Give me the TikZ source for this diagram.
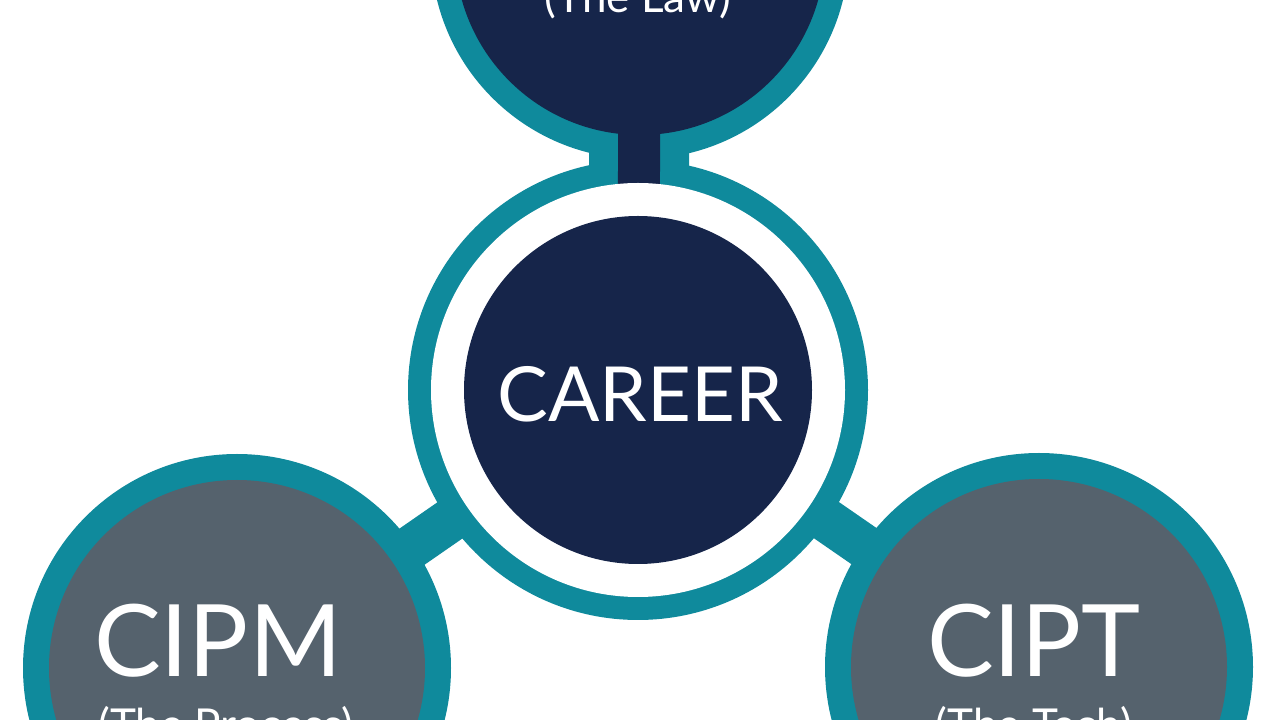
\documentclass[tikz,border=0pt]{standalone}
\usepackage{fontspec}
\setmainfont{Lato}
\usepackage{tikz}
\usetikzlibrary{calc,backgrounds}
\definecolor{navy}{HTML}{16254A}
\definecolor{tealring}{HTML}{0F8A9C}
\definecolor{slate}{HTML}{55626D}
\tikzset{
  ring/.style={circle,fill=tealring,inner sep=0pt,minimum size=#1},
  disc/.style 2 args={circle,fill=#1,inner sep=0pt,minimum size=#2},
  txt/.style={text=white,anchor=base,inner sep=0pt,font=\fontsize{#1}{#1}\selectfont},
}

\begin{document}
\begin{tikzpicture}[x=1pt,y=1pt]
\useasboundingbox (0,0) rectangle (1280,720);
\clip (0,0) rectangle (1280,720);
% teal rings
\node[ring=460pt] (ctr) at (638,330) {};
\node[ring=418pt] (law) at (640,770) {};
\node[ring=428pt] (cipm) at (237,52) {};
\node[ring=428pt] (cipt) at (1039,53) {};
% joints behind the rings
\begin{scope}[on background layer]
\draw[tealring,line width=100pt] (ctr.center) -- (law.center);
\draw[tealring,line width=44pt] (ctr.center) -- (cipm.center);
\draw[tealring,line width=44pt] (ctr.center) -- (cipt.center);
\end{scope}
% inner discs
\node[disc={navy}{370pt}] (lawcore) at (law.center) {};
\draw[navy,line width=42pt] (lawcore.center) -- (ctr.center);
\node[disc={white}{414pt}] (ctrwhite) at (ctr.center) {};
\node[disc={navy}{348pt}] (ctrcore) at (ctr.center) {};
\node[disc={slate}{376pt}] (cipmcore) at (cipm.center) {};
\node[disc={slate}{376pt}] (ciptcore) at (cipt.center) {};
% texts
\node[txt=76] (careertext) at (640,298) {CAREER};
\node[txt=44] (lawtext) at (638,707) {(The Law)};
\node[txt=100] (cipmtext) at (218,43) {CIPM};
\node[txt=44] (processtext) at (226,-21) {(The Process)};
\node[txt=100] (cipttext) at (1034,43) {CIPT};
\node[txt=44] (techtext) at (1034,-21) {(The Tech)};
\end{tikzpicture}
\end{document}
